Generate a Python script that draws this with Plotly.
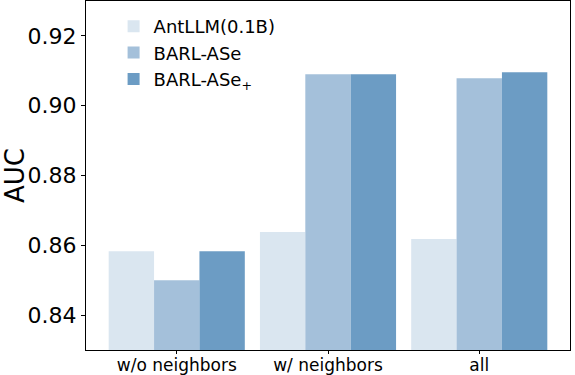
import plotly.graph_objects as go

categories = ["w/o neighbors", "w/ neighbors", "all"]
series_names = ["AntLLM(0.1B)", "BARL-ASe", "BARL-ASe<sub>+</sub>"]
antllm = [0.8583, 0.8638, 0.8618]
barl_ase = [0.8500, 0.9090, 0.9079]
barl_ase_plus = [0.8583, 0.9090, 0.9096]
colors = ["#dae6f0", "#a4c0da", "#6c9cc4"]
y_ticks = [0.84, 0.86, 0.88, 0.90, 0.92]

fig = go.Figure()
for name, vals, c in zip(series_names, [antllm, barl_ase, barl_ase_plus], colors):
    fig.add_trace(go.Bar(x=categories, y=vals, name=name, marker=dict(color=c, line=dict(width=0))))

fig.update_layout(
    width=575, height=375,
    barmode="group", bargap=0.1, bargroupgap=0,
    plot_bgcolor="white", paper_bgcolor="white",
    font=dict(family="DejaVu Sans", color="black"),
    margin=dict(l=86, r=5, t=1, b=25),
    legend=dict(x=0.057, y=0.98, xanchor="left", yanchor="top", bgcolor="rgba(0,0,0,0)",
                font=dict(size=18, color="black"), itemwidth=30, tracegroupgap=0),
    showlegend=True,
)
fig.update_xaxes(range=[-0.6, 2.6], showline=True, linecolor="black", linewidth=1, mirror=True,
                 ticks="outside", ticklen=3, tickcolor="black", tickfont=dict(size=17), showgrid=False,
                 automargin=False, ticklabelstandoff=-3)
fig.update_yaxes(range=[0.83, 0.93], tickvals=y_ticks, ticktext=[f"{v:.2f}" for v in y_ticks],
                 showline=True, linecolor="black", linewidth=1, mirror=True,
                 ticks="outside", ticklen=4, tickcolor="black", tickfont=dict(size=22), showgrid=False,
                 title=dict(text="AUC", font=dict(size=26), standoff=13), zeroline=False,
                 automargin=False)
fig.write_html("out.html", config={"displayModeBar": False},
               post_script="document.body.style.margin='0px';")
